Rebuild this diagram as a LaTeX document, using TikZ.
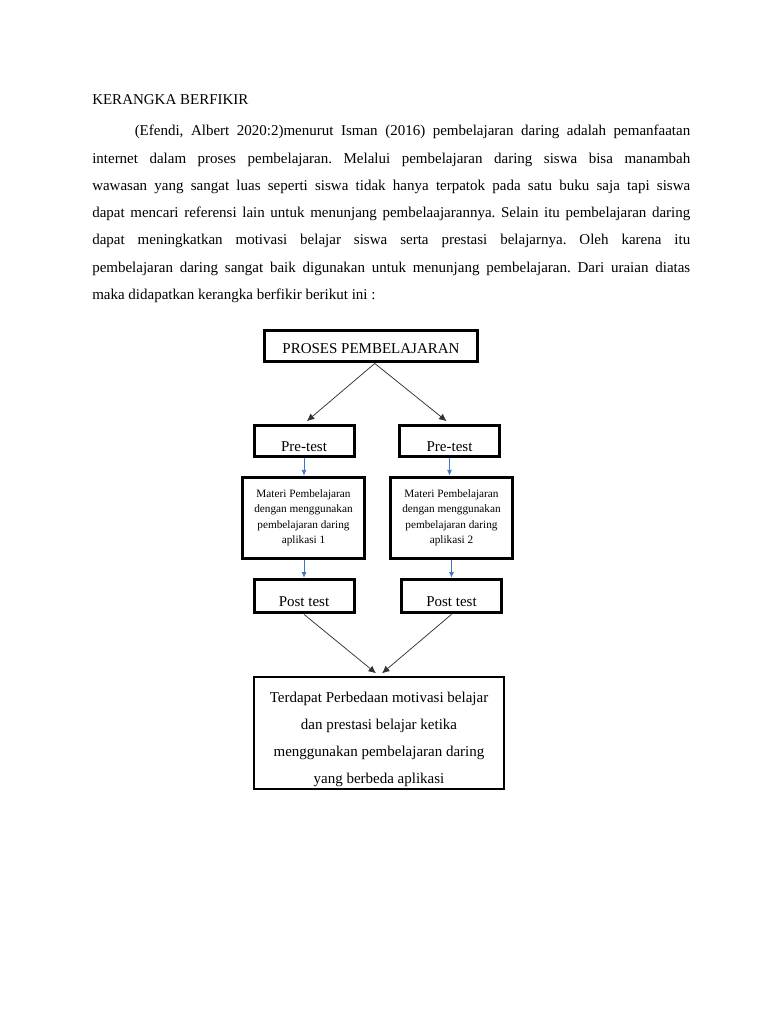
\documentclass[tikz,border=0pt]{standalone}
\usepackage{fontspec}
\setmainfont{Liberation Serif}
\usepackage{xcolor}
\usetikzlibrary{arrows.meta}
\definecolor{wordblue}{RGB}{68,114,196}
\frenchspacing

\begin{document}
\begin{tikzpicture}[x=0.8pt,y=-0.8pt,>={Latex[length=6pt,width=5.5pt]},
  font=\fontsize{12}{21.8}\selectfont,
  box/.style={draw,line width=2.4pt,align=center,inner sep=2pt},
  turun/.style={execute at begin node={\rule{0pt}{#1}}},
  kecil/.style={font=\fontsize{9}{12.4}\selectfont},
  panah/.style={->,line width=0.6pt,draw=black!80},
  biru/.style={-{Latex[length=4.5pt,width=4pt]},line width=0.6pt,draw=wordblue}]

\fill[white] (0,0) rectangle (768,1024);
\useasboundingbox (0,0) rectangle (768,1024);

% text
\node[anchor=base west,inner sep=0pt] (judul) at (92,105) {KERANGKA BERFIKIR};
\node[anchor=north west,inner sep=0pt,text width=478.4pt,align=justify] (isi) at (92,125)
 {\hspace*{34pt}(Efendi, Albert 2020:2)menurut Isman (2016) pembelajaran daring adalah pemanfaatan\linebreak
 internet dalam proses pembelajaran. Melalui pembelajaran daring siswa bisa manambah\linebreak
 wawasan yang sangat luas seperti siswa tidak hanya terpatok pada satu buku saja tapi siswa\linebreak
 dapat mencari referensi lain untuk menunjang pembelaajarannya. Selain itu pembelajaran daring\linebreak
 dapat meningkatkan motivasi belajar siswa serta prestasi belajarnya. Oleh karena itu\linebreak
 pembelajaran daring sangat baik digunakan untuk menunjang pembelajaran. Dari uraian diatas\linebreak
 maka didapatkan kerangka berfikir berikut ini :};

% boxes
\node[box,turun=11.5pt,minimum width=170pt,minimum height=25.5pt] (proses) at (371,346) {PROSES PEMBELAJARAN};

\node[box,turun=17.5pt,minimum width=80pt,minimum height=25.5pt] (pre1) at (304,441) {Pre-test};
\node[box,turun=17.5pt,minimum width=80pt,minimum height=25.5pt] (pre2) at (449.5,441) {Pre-test};

\node[box,kecil,minimum width=98pt,minimum height=65.5pt] (materi1) at (303.5,518)
 {Materi Pembelajaran\\dengan menggunakan\\pembelajaran daring\\aplikasi 1};
\node[box,kecil,minimum width=98pt,minimum height=65.5pt] (materi2) at (451.5,518)
 {Materi Pembelajaran\\dengan menggunakan\\pembelajaran daring\\aplikasi 2};

\node[box,turun=16.5pt,minimum width=80pt,minimum height=27pt] (post1) at (304,596) {Post test};
\node[box,turun=16.5pt,minimum width=80pt,minimum height=27pt] (post2) at (451.5,596) {Post test};

\node[box,line width=2pt,minimum width=200pt,minimum height=89.5pt,font=\fontsize{12}{21.6}\selectfont] (hasil) at (379,733)
 {\rule{0pt}{18pt}Terdapat Perbedaan motivasi belajar\\dan prestasi belajar ketika\\menggunakan pembelajaran daring\\yang berbeda aplikasi};

% arrows
\coordinate (masuk1) at ([xshift=-2.4pt,yshift=2pt]hasil.north);
\coordinate (masuk2) at ([xshift=2.4pt,yshift=2pt]hasil.north);

\draw[panah,shorten >=3pt] ([xshift=3pt]proses.south) -- (pre1.north);
\draw[panah,shorten >=3pt] ([xshift=3pt]proses.south) -- (pre2.north);

\draw[biru] (pre1.south) -- (pre1.south |- materi1.north);
\draw[biru] (pre2.south) -- (pre2.south |- materi2.north);
\draw[biru] (post1.north |- materi1.south) -- (post1.north);
\draw[biru] (post2.north |- materi2.south) -- (post2.north);

\draw[panah] (post1.south) -- (masuk1);
\draw[panah] (post2.south) -- (masuk2);

\end{tikzpicture}
\end{document}
